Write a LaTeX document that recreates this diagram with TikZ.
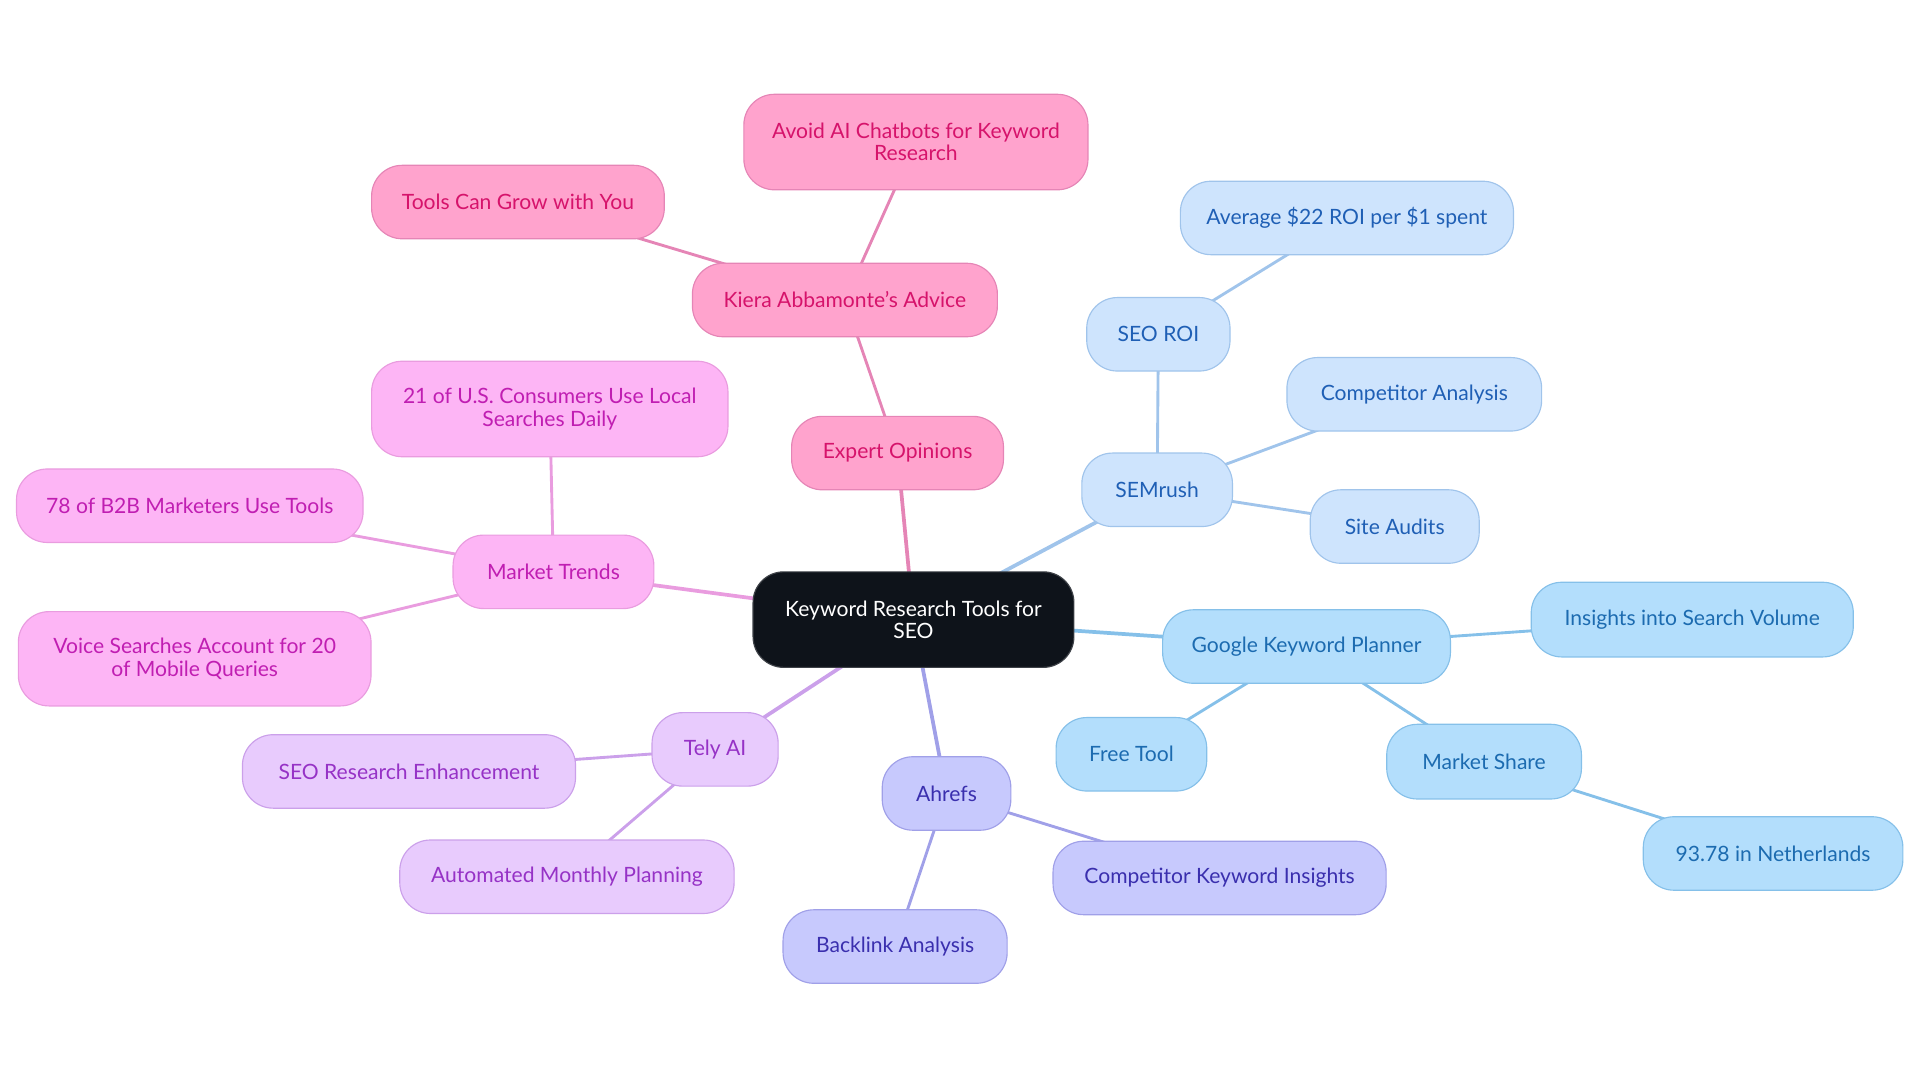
\documentclass[tikz,border=0pt]{standalone}
\usepackage{fontspec}
\setmainfont{Lato}
\usepackage{tikz}
\usetikzlibrary{positioning,backgrounds}
\definecolor{rootfill}{HTML}{0E131A}
\definecolor{pinkfill}{HTML}{FFA3CD}
\definecolor{pinktext}{HTML}{D6136B}
\definecolor{pinkline}{HTML}{E585B6}
\definecolor{magfill}{HTML}{FDB5F5}
\definecolor{magtext}{HTML}{C01EB2}
\definecolor{magline}{HTML}{E99CDF}
\definecolor{lilfill}{HTML}{E8CBFD}
\definecolor{liltext}{HTML}{9632C6}
\definecolor{lilline}{HTML}{CBA0EA}
\definecolor{indfill}{HTML}{C7C9FD}
\definecolor{indtext}{HTML}{3A2FAE}
\definecolor{indline}{HTML}{A0A0E8}
\definecolor{skyfill}{HTML}{B3DEFC}
\definecolor{skytext}{HTML}{1C6BB0}
\definecolor{skyline}{HTML}{85C0E9}
\definecolor{pblfill}{HTML}{CEE4FD}
\definecolor{pbltext}{HTML}{1F5FB5}
\definecolor{pblline}{HTML}{A0C4EB}
\tikzset{%
	topic/.style    = {draw, rectangle, rounded corners=0.75cm, align=center, inner sep=0pt, font=\fontsize{14.7}{15.6}\selectfont, line width=0.8pt},
	root/.style     = {topic, fill=rootfill, draw=rootfill!80!white, text=white},
	expert/.style   = {topic, fill=pinkfill, draw=pinkline, text=pinktext},
	trend/.style    = {topic, fill=magfill, draw=magline, text=magtext},
	tely/.style     = {topic, fill=lilfill, draw=lilline, text=liltext},
	ahrefs/.style   = {topic, fill=indfill, draw=indline, text=indtext},
	gkp/.style      = {topic, fill=skyfill, draw=skyline, text=skytext},
	semrush/.style  = {topic, fill=pblfill, draw=pblline, text=pbltext},
	link/.style     = {line width=2.6pt},
	twig/.style     = {line width=2pt},
}

\begin{document}
\begin{tikzpicture}[x=0.03cm, y=-0.03cm]
	\useasboundingbox (0,0) rectangle (1568,884.45);
	% centre
	\node[root, minimum width=7.86cm, minimum height=2.34cm] (seo) at (746,506) {Keyword Research Tools for\\SEO};
	% expert opinions
	\node[expert, minimum width=5.19cm, minimum height=1.8cm] (expert) at (733,370) {Expert Opinions};
	\node[expert, minimum width=7.47cm, minimum height=1.8cm] (kiera) at (690,245) {Kiera Abbamonte's Advice};
	\node[expert, minimum width=8.43cm, minimum height=2.34cm] (chatbot) at (748,116) {Avoid AI Chatbots for Keyword\\Research};
	\node[expert, minimum width=7.17cm, minimum height=1.8cm] (grow) at (423,165) {Tools Can Grow with You};
	% market trends
	\node[trend, minimum width=4.92cm, minimum height=1.8cm] (trends) at (452,467) {Market Trends};
	\node[trend, minimum width=8.73cm, minimum height=2.34cm] (local) at (449,334) {21 of U.S. Consumers Use Local\\Searches Daily};
	\node[trend, minimum width=8.49cm, minimum height=1.8cm] (btob) at (155,413) {78 of B2B Marketers Use Tools};
	\node[trend, minimum width=8.64cm, minimum height=2.31cm] (voice) at (159,538) {Voice Searches Account for 20\\of Mobile Queries};
	% tely ai
	\node[tely, minimum width=3.09cm, minimum height=1.8cm] (tely) at (584,612) {Tely AI};
	\node[tely, minimum width=8.16cm, minimum height=1.8cm] (enhance) at (334,630) {SEO Research Enhancement};
	\node[tely, minimum width=8.19cm, minimum height=1.8cm] (monthly) at (463,716) {Automated Monthly Planning};
	% ahrefs
	\node[ahrefs, minimum width=3.15cm, minimum height=1.8cm] (ahrefs) at (773,648) {Ahrefs};
	\node[ahrefs, minimum width=8.16cm, minimum height=1.8cm] (compkw) at (996,717) {Competitor Keyword Insights};
	\node[ahrefs, minimum width=5.49cm, minimum height=1.8cm] (backlink) at (731,773) {Backlink Analysis};
	% google keyword planner
	\node[gkp, minimum width=7.05cm, minimum height=1.8cm] (planner) at (1067,528) {Google Keyword Planner};
	\node[gkp, minimum width=7.89cm, minimum height=1.83cm] (volume) at (1382,506) {Insights into Search Volume};
	\node[gkp, minimum width=3.69cm, minimum height=1.8cm] (free) at (924,616) {Free Tool};
	\node[gkp, minimum width=4.77cm, minimum height=1.83cm] (share) at (1212,622) {Market Share};
	\node[gkp, minimum width=6.36cm, minimum height=1.8cm] (nl) at (1448,697) {93.78 in Netherlands};
	% semrush
	\node[semrush, minimum width=3.69cm, minimum height=1.8cm] (semrush) at (945,400) {SEMrush};
	\node[semrush, minimum width=3.51cm, minimum height=1.8cm] (roi) at (946,273) {SEO ROI};
	\node[semrush, minimum width=8.16cm, minimum height=1.8cm] (avg) at (1100,178) {Average \$22 ROI per \$1 spent};
	\node[semrush, minimum width=6.24cm, minimum height=1.8cm] (comp) at (1155,322) {Competitor Analysis};
	\node[semrush, minimum width=4.14cm, minimum height=1.8cm] (audit) at (1139,430) {Site Audits};

	\begin{scope}[on background layer]
	\draw[link, pinkline] (seo.center) -- (expert.center);
	\draw[twig, pinkline] (expert.center) -- (kiera.center);
	\draw[twig, pinkline] (kiera.center) -- (chatbot.center);
	\draw[twig, pinkline] (kiera.center) -- (grow.center);
	\draw[link, magline] (seo.center) -- (trends.center);
	\draw[twig, magline] (trends.center) -- (local.center);
	\draw[twig, magline] (trends.center) -- (btob.center);
	\draw[twig, magline] (trends.center) -- (voice.center);
	\draw[link, lilline] (seo.center) -- (tely.center);
	\draw[twig, lilline] (tely.center) -- (enhance.center);
	\draw[twig, lilline] (tely.center) -- (monthly.center);
	\draw[link, indline] (seo.center) -- (ahrefs.center);
	\draw[twig, indline] (ahrefs.center) -- (compkw.center);
	\draw[twig, indline] (ahrefs.center) -- (backlink.center);
	\draw[link, skyline] (seo.center) -- (planner.center);
	\draw[twig, skyline] (planner.center) -- (volume.center);
	\draw[twig, skyline] (planner.center) -- (free.center);
	\draw[twig, skyline] (planner.center) -- (share.center);
	\draw[twig, skyline] (share.center) -- (nl.center);
	\draw[link, pblline] (seo.center) -- (semrush.center);
	\draw[twig, pblline] (semrush.center) -- (roi.center);
	\draw[twig, pblline] (roi.center) -- (avg.center);
	\draw[twig, pblline] (semrush.center) -- (comp.center);
	\draw[twig, pblline] (semrush.center) -- (audit.center);
	\end{scope}
\end{tikzpicture}
\end{document}
